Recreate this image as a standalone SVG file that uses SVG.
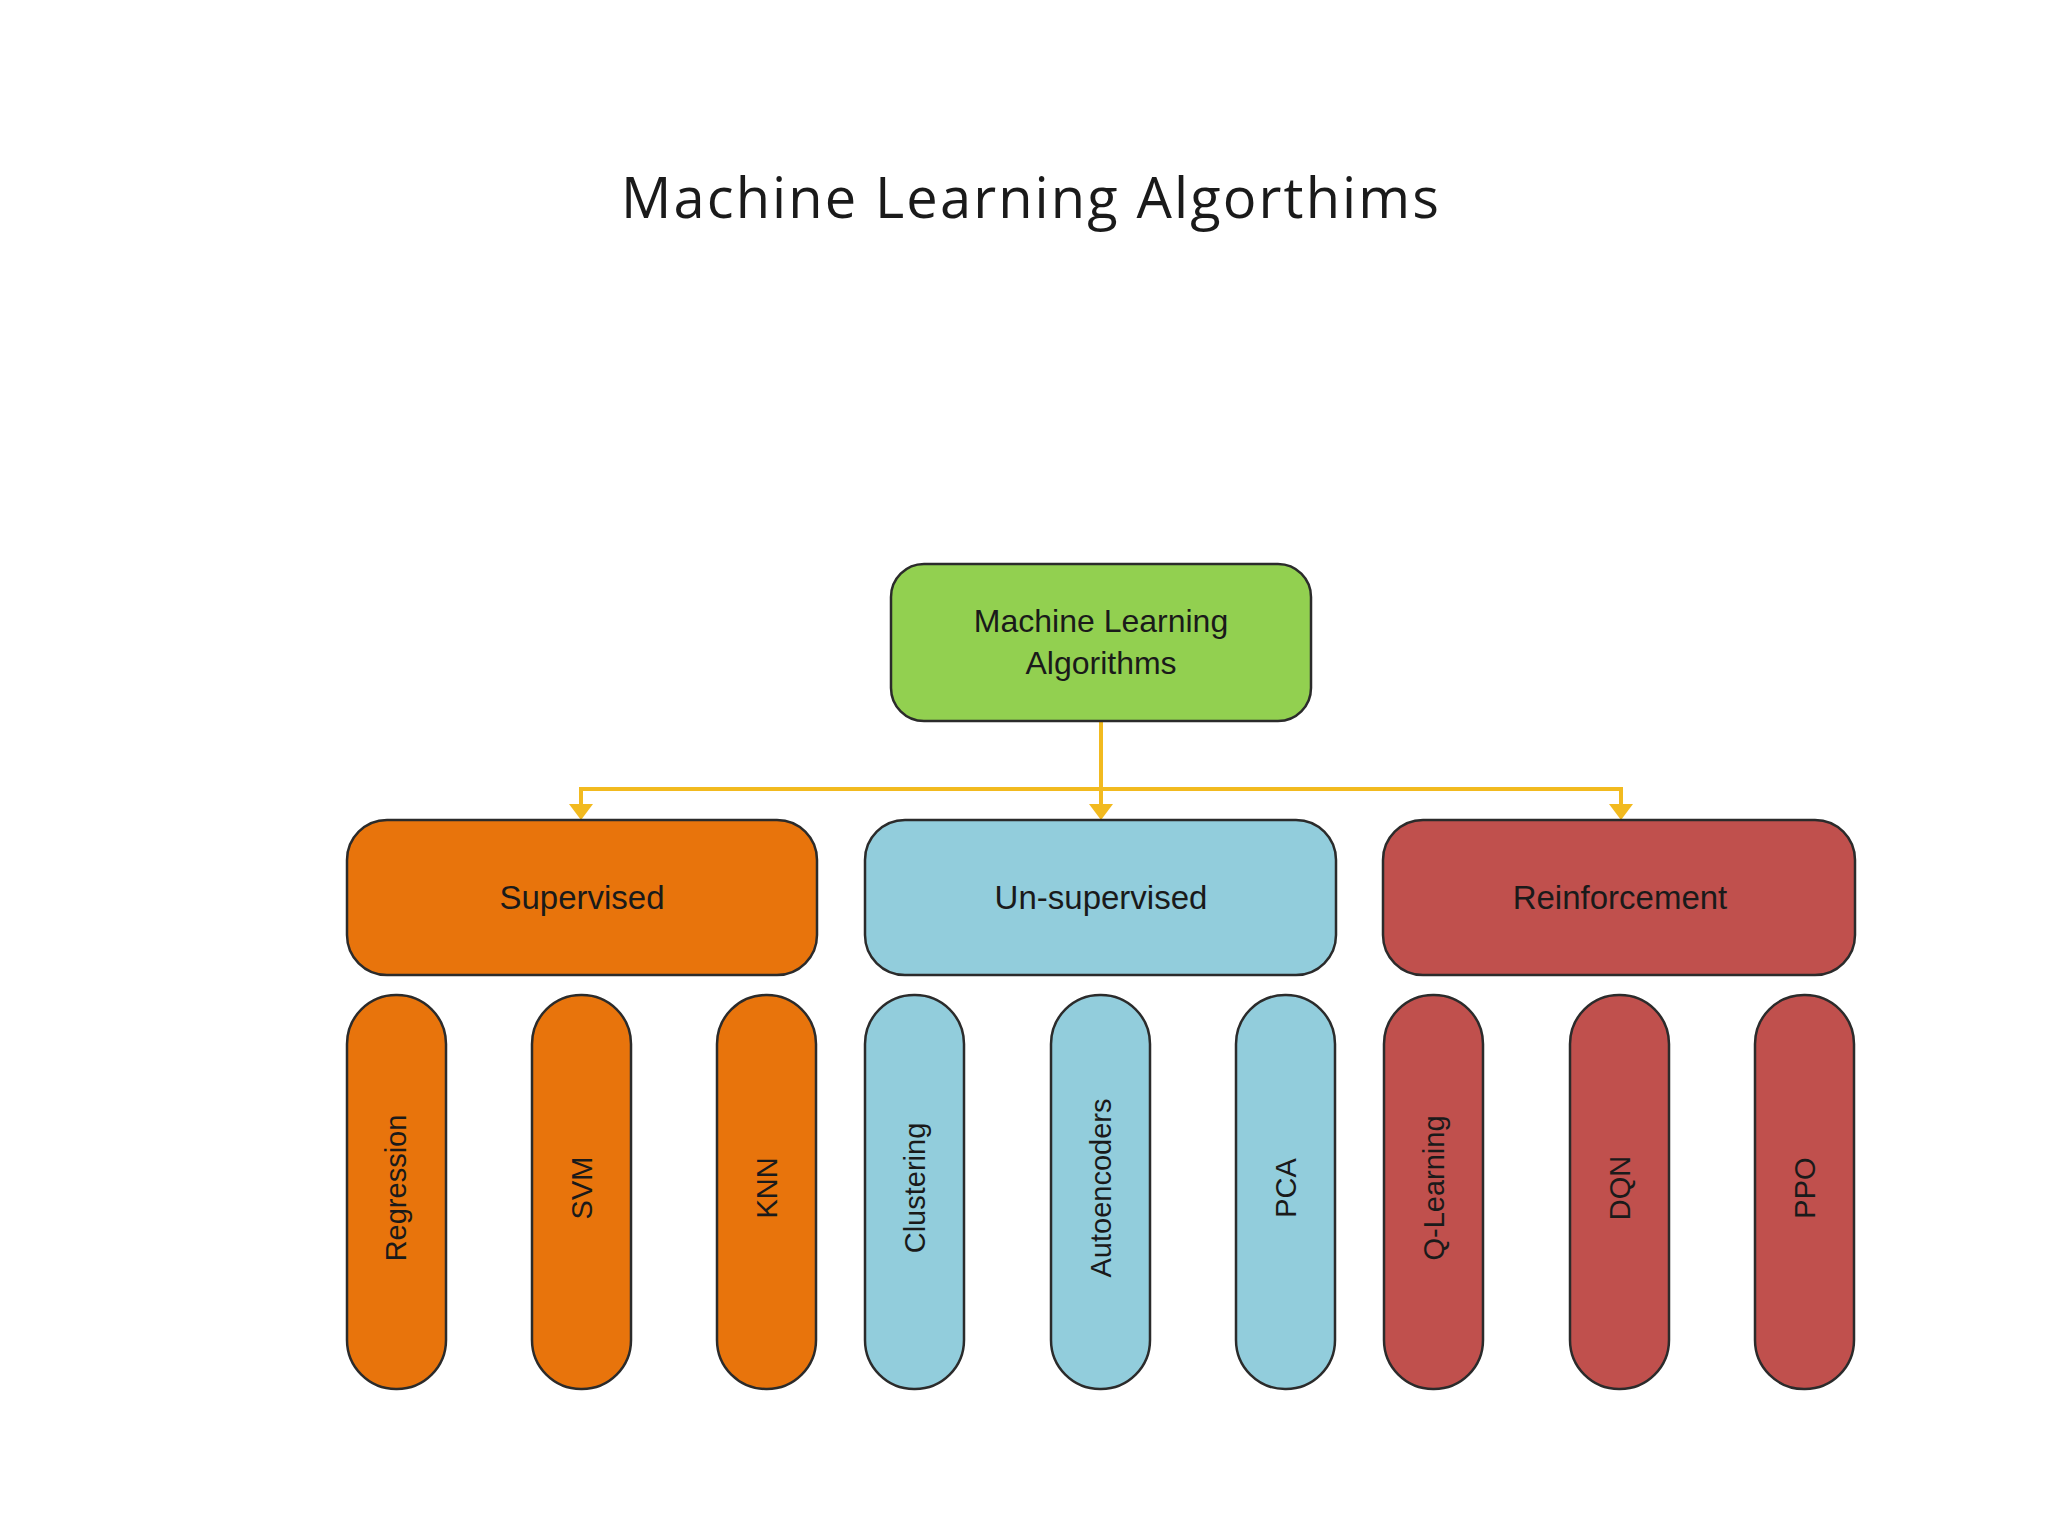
<svg xmlns="http://www.w3.org/2000/svg" width="2048" height="1536" viewBox="0 0 2048 1536">
<defs>
<style>
.b{stroke:#2b2b2b;stroke-width:2.5}
.o{fill:#E8740C}.u{fill:#92CDDC}.r{fill:#C0504D}.g{fill:#92D050}
.t{font-family:"Liberation Sans",Arial,sans-serif;fill:#1a1a1a;text-anchor:middle}
.c{stroke:#F2BA1F;stroke-width:4;fill:none}
</style>
<marker id="a" viewBox="0 0 10 10" refX="5" refY="8" markerWidth="5" markerHeight="5" orient="auto-start-reverse" markerUnits="userSpaceOnUse"><path d="M0,0L10,0L5,10z" fill="#F2BA1F" transform="rotate(0)"/></marker>
</defs>
<rect width="2048" height="1536" fill="#fff"/>
<text x="1030" y="218" class="t" font-size="56" textLength="818" font-family="Open Sans" style="font-family:'Open Sans',sans-serif">Machine Learning Algorthims</text>
<g id="connectors">
<path class="c" d="M1101,721V812"/>
<path class="c" d="M581,812V789H1621V812"/>
<path d="M569,804H593L581,820Z M1089,804H1113L1101,820Z M1609,804H1633L1621,820Z" fill="#F2BA1F"/>
</g>
<g id="root"><rect class="b g" x="891" y="564" width="420" height="157" rx="33"/>
<text class="t" x="1101" y="632" font-size="32">Machine Learning</text>
<text class="t" x="1101" y="674" font-size="32">Algorithms</text></g>
<g id="supervised"><rect class="b o" x="347" y="820" width="470" height="155" rx="40"/><text class="t" x="582" y="909" font-size="33">Supervised</text></g>
<g id="unsupervised"><rect class="b u" x="865" y="820" width="471" height="155" rx="40"/><text class="t" x="1101" y="909" font-size="33">Un-supervised</text></g>
<g id="reinforcement"><rect class="b r" x="1383" y="820" width="472" height="155" rx="40"/><text class="t" x="1620" y="909" font-size="33">Reinforcement</text></g>
<g id="regression"><rect class="b o" x="347" y="995" width="99" height="394" rx="49"/><text class="t" font-size="29" transform="translate(406,1188) rotate(-90)">Regression</text></g>
<g id="svm"><rect class="b o" x="532" y="995" width="99" height="394" rx="49"/><text class="t" font-size="29" transform="translate(592,1188) rotate(-90)">SVM</text></g>
<g id="knn"><rect class="b o" x="717" y="995" width="99" height="394" rx="49"/><text class="t" font-size="29" transform="translate(777,1188) rotate(-90)">KNN</text></g>
<g id="clustering"><rect class="b u" x="865" y="995" width="99" height="394" rx="49"/><text class="t" font-size="29" transform="translate(925,1188) rotate(-90)">Clustering</text></g>
<g id="autoencoders"><rect class="b u" x="1051" y="995" width="99" height="394" rx="49"/><text class="t" font-size="29" transform="translate(1111,1188) rotate(-90)">Autoencoders</text></g>
<g id="pca"><rect class="b u" x="1236" y="995" width="99" height="394" rx="49"/><text class="t" font-size="29" transform="translate(1296,1188) rotate(-90)">PCA</text></g>
<g id="qlearning"><rect class="b r" x="1384" y="995" width="99" height="394" rx="49"/><text class="t" font-size="29" transform="translate(1444,1188) rotate(-90)">Q-Learning</text></g>
<g id="dqn"><rect class="b r" x="1570" y="995" width="99" height="394" rx="49"/><text class="t" font-size="29" transform="translate(1630,1188) rotate(-90)">DQN</text></g>
<g id="ppo"><rect class="b r" x="1755" y="995" width="99" height="394" rx="49"/><text class="t" font-size="29" transform="translate(1815,1188) rotate(-90)">PPO</text></g>
</svg>
